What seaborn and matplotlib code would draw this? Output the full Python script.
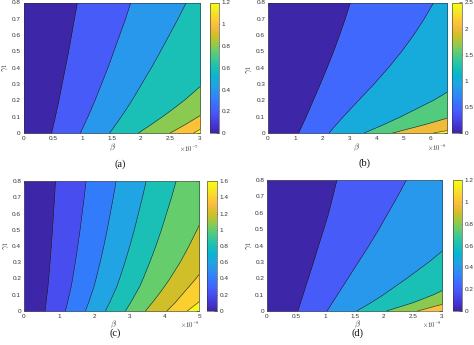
import numpy as np
import matplotlib
matplotlib.use("Agg")
import matplotlib.pyplot as plt
from matplotlib.cm import ScalarMappable
from matplotlib.colors import Normalize
import seaborn as sns

sns.set_theme(style="white")
plt.rcParams["font.family"] = ["Liberation Sans", "DejaVu Sans"]
plt.rcParams["mathtext.fontset"] = "cm"

# ---------------------------------------------------------------- data
# gamma_1 values at which each iso-level curve is tabulated
GAMMA_S = [0.0, 0.05, 0.1, 0.15, 0.2, 0.3, 0.4, 0.5, 0.6, 0.7, 0.8]

# (a) beta position (units of 1e-7) of each iso-level
LEVELS_A = [0.2, 0.4, 0.6, 0.8, 1.0, 1.2]
CURVES_A = [
    [0.48, 0.513, 0.545, 0.575, 0.605, 0.66, 0.715, 0.77, 0.82, 0.87, 0.92],
    [0.97, 1.035, 1.10, 1.16, 1.22, 1.33, 1.44, 1.54, 1.64, 1.74, 1.83],
    [1.47, 1.57, 1.667, 1.76, 1.85, 2.015, 2.18, 2.335, 2.485, 2.635, 2.775],
    [1.96, 2.17, 2.37, 2.56, 2.74, 3.06, 3.36, 3.64, 3.90, 4.15, 4.40],
    [2.50, 2.75, 2.98, 3.20, 3.40, 3.80, 4.20, 4.60, 5.00, 5.40, 5.80],
    [2.90, 3.15, 3.40, 3.60, 3.80, 4.20, 4.60, 5.00, 5.40, 5.80, 6.20],
]

# (b) beta position (units of 1e-8) of each iso-level
LEVELS_B = [0.5, 1.0, 1.5, 2.0, 2.5]
CURVES_B = [
    [1.13, 1.27, 1.41, 1.54, 1.67, 1.93, 2.18, 2.42, 2.64, 2.85, 3.04],
    [2.25, 2.51, 2.78, 3.06, 3.34, 3.91, 4.44, 4.93, 5.37, 5.76, 6.11],
    [3.55, 4.25, 4.90, 5.50, 6.10, 7.10, 8.00, 8.80, 9.60, 10.4, 11.2],
    [4.60, 5.75, 6.80, 7.70, 8.50, 9.80, 11.0, 12.0, 13.0, 14.0, 15.0],
    [6.10, 7.80, 9.00, 10.0, 11.0, 12.5, 14.0, 15.0, 16.0, 17.0, 18.0],
]

# (c) beta position (units of 1e-8) of each iso-level
LEVELS_C = [0.2, 0.4, 0.6, 0.8, 1.0, 1.2, 1.4, 1.6]
CURVES_C = [
    [0.60, 0.63, 0.657, 0.684, 0.705, 0.744, 0.78, 0.813, 0.843, 0.873, 0.90],
    [1.18, 1.239, 1.292, 1.345, 1.387, 1.463, 1.534, 1.599, 1.658, 1.717, 1.77],
    [1.75, 1.838, 1.916, 1.995, 2.056, 2.17, 2.275, 2.371, 2.459, 2.546, 2.625],
    [2.32, 2.436, 2.54, 2.645, 2.726, 2.877, 3.016, 3.144, 3.26, 3.376, 3.48],
    [2.89, 3.035, 3.165, 3.295, 3.396, 3.584, 3.757, 3.916, 4.06, 4.205, 4.335],
    [3.46, 3.65, 3.83, 4.00, 4.16, 4.45, 4.70, 4.93, 5.15, 5.35, 5.55],
    [4.07, 4.30, 4.50, 4.70, 4.90, 5.25, 5.55, 5.85, 6.10, 6.35, 6.60],
    [4.65, 4.95, 5.20, 5.45, 5.70, 6.10, 6.50, 6.80, 7.10, 7.40, 7.70],
]

# (d) beta position (units of 1e-8) of each iso-level
LEVELS_D = [0.2, 0.4, 0.6, 0.8, 1.0]
CURVES_D = [
    [0.53, 0.575, 0.62, 0.665, 0.71, 0.80, 0.886, 0.975, 1.06, 1.13, 1.20],
    [1.03, 1.12, 1.21, 1.30, 1.39, 1.57, 1.75, 1.92, 2.08, 2.24, 2.39],
    [1.54, 1.78, 2.00, 2.20, 2.40, 2.78, 3.12, 3.45, 3.75, 4.05, 4.35],
    [2.05, 2.50, 2.86, 3.15, 3.40, 3.85, 4.25, 4.60, 4.95, 5.30, 5.60],
    [2.58, 3.10, 3.50, 3.80, 4.10, 4.60, 5.00, 5.40, 5.80, 6.20, 6.60],
]

# ---------------------------------------------------------------- colormap
PARULA_RGB = [
    (0.2422, 0.1504, 0.6603), (0.2706, 0.2147, 0.8364), (0.2813, 0.3006, 0.9414),
    (0.2699, 0.3892, 0.9906), (0.1963, 0.4847, 0.9892), (0.1687, 0.5703, 0.9359),
    (0.1248, 0.6459, 0.8883), (0.0297, 0.7082, 0.8163), (0.0964, 0.7500, 0.7120),
    (0.2161, 0.7843, 0.5923), (0.3909, 0.8029, 0.4354), (0.6174, 0.7876, 0.2612),
    (0.8203, 0.7498, 0.1535), (0.9728, 0.7298, 0.2394), (0.9892, 0.8136, 0.1885),
    (0.9597, 0.9135, 0.1423), (0.9769, 0.9839, 0.0805),
]
parula = sns.blend_palette(PARULA_RGB, n_colors=256, as_cmap=True)

W, H = 474, 345
INK = "#333333"


def frac(left, top, right, bottom):
    return [left / W, 1 - bottom / H, (right - left) / W, (bottom - top) / H]


def panel(fig, ax_px, cb_px, levels, curves, xmax, vmax, cb_step, xticks, exponent,
          caption, cap_px, ylab_px, xlab_px, exp_px):
    ax = fig.add_axes(frac(*ax_px))
    g = np.asarray(GAMMA_S)
    edges = [np.zeros_like(g)] + [np.asarray(c, float) for c in curves] \
        + [np.full_like(g, 10 * xmax)]
    lower = [0.0] + list(levels)
    # filled bands between consecutive iso-level curves
    for k in range(len(edges) - 1):
        ax.fill_betweenx(g, edges[k], edges[k + 1], color=parula(lower[k] / vmax),
                         linewidth=0.3, edgecolor=parula(lower[k] / vmax))
    for c in curves:
        ax.plot(c, g, color="k", lw=0.45, alpha=0.85)

    ax.set_xlim(0, xmax)
    ax.set_ylim(0, 0.8)
    ax.set_xticks(xticks)
    ax.set_xticklabels([f"{t:g}" for t in xticks])
    yt = np.round(np.arange(0, 0.81, 0.1), 1)
    ax.set_yticks(yt)
    ax.set_yticklabels([f"{t:g}" for t in yt])
    ax.tick_params(axis="both", direction="in", length=2, width=0.4, labelsize=4.6,
                   colors=INK, pad=2, top=True, right=True)
    for s in ax.spines.values():
        s.set_linewidth(0.4)
        s.set_color(INK)
        s.set_zorder(5)

    fig.text(ylab_px[0] / W, 1 - ylab_px[1] / H, r"$\gamma_1$", rotation=90,
             ha="center", va="center", fontsize=6, color=INK)
    fig.text(xlab_px[0] / W, 1 - xlab_px[1] / H, r"$\beta$",
             ha="center", va="center", fontsize=6, color=INK)
    fig.text(exp_px[0] / W, 1 - exp_px[1] / H, r"$\times10^{%d}$" % exponent,
             ha="right", va="center", fontsize=4.8, color=INK)
    fig.text(cap_px[0] / W, 1 - cap_px[1] / H, caption, ha="center", va="center",
             fontsize=7.5, family="Liberation Serif", color="#111111")

    cax = fig.add_axes(frac(*cb_px))
    cb = fig.colorbar(ScalarMappable(norm=Normalize(0, vmax), cmap=parula), cax=cax)
    cticks = np.round(np.arange(0, vmax + cb_step / 2, cb_step), 2)
    cb.set_ticks(cticks)
    cb.set_ticklabels([f"{t:g}" for t in cticks])
    cax.tick_params(direction="in", length=2, width=0.4, labelsize=4.6, colors=INK, pad=2)
    cb.outline.set_linewidth(0.4)
    cb.outline.set_edgecolor(INK)
    return ax


fig = plt.figure(figsize=(W / 100, H / 100), dpi=100)
fig.patch.set_facecolor("white")

panel(fig, (23.5, 2.5, 199.5, 133), (209.5, 2.5, 219, 133), LEVELS_A, CURVES_A,
      3.0, 1.2, 0.2, [0, 0.5, 1, 1.5, 2, 2.5, 3], -7, "(a)", (120, 164),
      (5.5, 68), (112, 147.5), (199.5, 148.5))
panel(fig, (268, 2.5, 446.5, 133), (452, 2.5, 462, 133), LEVELS_B, CURVES_B,
      6.58, 2.5, 0.5, [0, 1, 2, 3, 4, 5, 6], -8, "(b)", (364.5, 163.5),
      (249, 70), (356, 147), (446.5, 147.5))
panel(fig, (24, 181, 199.5, 311), (207, 181, 216.5, 311), LEVELS_C, CURVES_C,
      5.0, 1.6, 0.2, [0, 1, 2, 3, 4, 5], -8, "(c)", (115, 333.5),
      (6, 246), (113, 324.5), (199.5, 325))
panel(fig, (267, 180, 442, 311), (452.5, 180, 462, 311), LEVELS_D, CURVES_D,
      3.0, 1.2, 0.2, [0, 0.5, 1, 1.5, 2, 2.5, 3], -8, "(d)", (357, 333.5),
      (249, 246), (357.5, 324.5), (442, 324.5))

fig.savefig("out.png", dpi=100, facecolor="white")
